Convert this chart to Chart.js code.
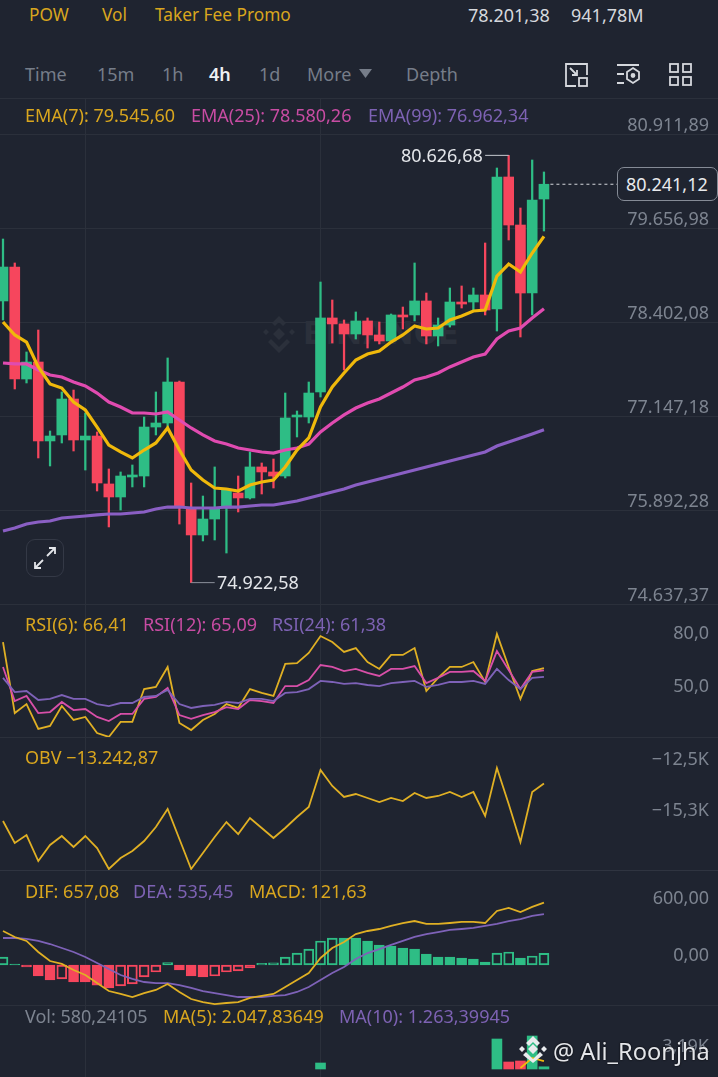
<!DOCTYPE html>
<html>
<head>
<meta charset="utf-8">
<script src="https://cdn.jsdelivr.net/npm/chart.js@4"></script>
<style>
html,body{margin:0;padding:0;background:#1f2430;width:718px;height:1077px;overflow:hidden}
body{position:relative;font-family:"Noto Sans",Inter,sans-serif}
canvas{position:absolute;left:0}
.t{position:absolute;white-space:nowrap;line-height:22px;font-size:18px;transform:translateY(-50%)}
.y{color:#d9a61e}.p{color:#c84ca3}.u{color:#7d62b3}.g{color:#7d8490}.w{color:#d5d8dd}
.n{font-size:18px;color:#767d89}
.sep{position:absolute;left:0;width:718px;height:1px;background:#2b303b}
svg{position:absolute}
</style>
</head>
<body>
<div style="position:absolute;left:258px;top:311px;width:210px;height:44px;color:#2b303b;font-family:Inter;font-size:31.500px;font-weight:800;letter-spacing:1.500px;line-height:44px;padding-left:46px;box-sizing:border-box" >BINANCE</div>
<svg style="left:258px;top:313px" width="42" height="42" viewBox="0 0 42 42" fill="#2b303b"><path d="M21 3l7 7-3 3-4-4-4 4-3-3zM8 16l3 3-3 3-3-3zM34 16l3 3-3 3-3-3zM21 15l6 6-6 6-6-6zM13 26l8 8 8-8 3 3-11 11-11-11z"/></svg>

<canvas id="cMain" width="718" height="508" style="top:98px"></canvas>
<canvas id="cRsi" width="718" height="132" style="top:606px"></canvas>
<canvas id="cObv" width="718" height="132" style="top:738px"></canvas>
<canvas id="cMacd" width="718" height="135" style="top:870px"></canvas>
<canvas id="cVol" width="718" height="72" style="top:1005px"></canvas>

<div class="sep" style="top:98px"></div><div class="sep" style="top:737px"></div><div class="sep" style="top:870px;background:#2f3440"></div><div class="sep" style="top:1005px"></div>

<div class="t y" style="left:29px;top:15px;font-size:17.300px">POW</div>
<div class="t y" style="left:102px;top:15px;font-size:17.300px">Vol</div>
<div class="t y" style="left:155px;top:15px;font-size:17.300px">Taker Fee Promo</div>
<div class="t w" style="left:468px;top:15px">78.201,38</div>
<div class="t w" style="left:571px;top:15px">941,78M</div>

<div class="t n" style="left:25px;top:74px">Time</div>
<div class="t n" style="left:97px;top:74px">15m</div>
<div class="t n" style="left:162px;top:74px">1h</div>
<div class="t n" style="left:209px;top:74px;color:#eef0f3;font-weight:600">4h</div>
<div class="t n" style="left:259px;top:74px">1d</div>
<div class="t n" style="left:307px;top:74px">More</div>
<svg style="left:359px;top:69px" width="14" height="10"><path d="M0 0h13l-6.500 9z" fill="#767d89"/></svg>
<div class="t n" style="left:406px;top:74px">Depth</div>

<svg style="left:564px;top:62px" width="26" height="26" fill="none" stroke="#d5d8dd" stroke-width="1.800"><path d="M12 24H2V2h21v11"/><rect x="15" y="16" width="8" height="8"/><path d="M6 6l7 7M13 8v5H8"/></svg>
<svg style="left:615px;top:62px" width="26" height="26" fill="none" stroke="#d5d8dd" stroke-width="1.800"><path d="M2 3h22M2 12h7M2 21h7"/><path d="M18 6l6 4v7l-6 4-6-4v-7z"/><circle cx="18" cy="13.500" r="1.500" fill="#d5d8dd"/></svg>
<svg style="left:668px;top:62px" width="26" height="26" fill="none" stroke="#d5d8dd" stroke-width="1.800"><rect x="2" y="2" width="8" height="8"/><rect x="15" y="2" width="8" height="8"/><rect x="2" y="15" width="8" height="8"/><rect x="15" y="15" width="8" height="8"/></svg>

<div class="t y" style="left:25px;top:115px">EMA(7): 79.545,60</div>
<div class="t p" style="left:191px;top:115px">EMA(25): 78.580,26</div>
<div class="t u" style="left:368px;top:115px">EMA(99): 76.962,34</div>

<div class="t w" style="left:401px;top:155px;color:#e4e6ea">80.626,68</div>
<div class="t w" style="left:217px;top:582px;color:#e4e6ea">74.922,58</div>

<div style="position:absolute;left:617px;top:167px;width:101px;height:34px;border:1.500px solid #858b96;border-radius:7px;background:#1f2430;box-sizing:border-box"></div>
<div class="t" style="left:626px;top:184px;color:#e8eaed">80.241,12</div>

<div style="position:absolute;left:26px;top:539px;width:38px;height:38px;border:1.500px solid #343946;border-radius:9px;box-sizing:border-box"></div>
<svg style="left:33px;top:546px" width="24" height="24" fill="none" stroke="#e4e6ea" stroke-width="1.800"><path d="M14 10l8-8M16 2h6v6M10 14l-8 8M2 16v6h6"/></svg>

<div class="t y" style="left:25px;top:624px">RSI(6): 66,41</div>
<div class="t p" style="left:143px;top:624px">RSI(12): 65,09</div>
<div class="t u" style="left:272px;top:624px">RSI(24): 61,38</div>
<div class="t y" style="left:25px;top:757px">OBV −13.242,87</div>
<div class="t y" style="left:25px;top:891px">DIF: 657,08</div>
<div class="t u" style="left:133px;top:891px">DEA: 535,45</div>
<div class="t y" style="left:249px;top:891px">MACD: 121,63</div>
<div class="t g" style="left:25px;top:1016px">Vol: 580,24105</div>
<div class="t y" style="left:163px;top:1016px">MA(5): 2.047,83649</div>
<div class="t u" style="left:339px;top:1016px">MA(10): 1.263,39945</div>

<svg style="left:519px;top:1035px" width="28" height="28" viewBox="0 0 28 28"><path d="M14 1l7 7-3 3-4-4-4 4-3-3zM3 11l3 3-3 3-3-3zM25 11l3 3-3 3-3-3zM14 9l5 5-5 5-5-5zM7 17l7 7 7-7 3 3-10 8-10-8z" fill="#e9ebee"/></svg>
<div class="t" style="left:553px;top:1051px;font-size:23.600px;color:#e4e6ea;text-shadow:0 0 2px #000">@ Ali_Roonjha</div>

<script>
const opens=[78683,79136,77641,77868,76814,76894,77374,76827,76880,76240,76066,76333,76346,77000,77054,77601,75919,75559,75772,75919,76119,76053,76467,76400,76346,77134,77134,77468,78456,78376,78242,78416,78229,78149,78496,78496,78683,78215,78362,78669,78669,78763,78576,80338,79697,78789,80044];
const highs=[79510,79190,78002,78295,76947,77468,77494,77187,76934,76440,76400,76493,77134,77468,77922,77614,76253,76079,76467,76172,76346,76667,76520,76573,77454,77214,77601,78936,78696,78429,78536,78456,78402,78509,78602,79190,78789,78456,78856,78883,78856,79457,80458,80626.68,79924,80565,80405];
const lows=[78429,77508,77588,76587,76480,76787,76680,76426,76146,75666,75892,76200,76200,76894,77000,75705,74922.58,75479,75492,75318,75866,76039,76106,76186,76320,76867,77054,77401,78122,77761,78175,78055,78109,78135,78309,78416,78109,78082,78335,78589,78562,78496,78282,79497,78202,78496,79617];
const closes=[79136,77641,77868,76814,76880,77374,76827,76880,76253,76066,76346,76360,77000,77054,77601,75932,75559,75772,75919,76159,76053,76467,76400,76346,77121,77147,77454,78456,78376,78242,78416,78229,78149,78496,78469,78683,78215,78362,78669,78642,78763,78562,80338,79697,78789,80031,80241.12];
const ema7=[78402,78229,78135,77802,77575,77521,77334,77227,77000,76760,76667,76587,76693,76787,76987,76693,76426,76293,76186,76173,76146,76226,76266,76293,76467,76693,76854,77267,77534,77721,77895,77975,78015,78135,78229,78349,78309,78322,78429,78482,78549,78562,79016,79176,79070,79323,79545.6];
const ema25=[77855,77842,77842,77761,77695,77668,77601,77548,77454,77334,77267,77187,77187,77174,77201,77094,76987,76894,76814,76773,76720,76693,76667,76653,76693,76720,76773,76934,77054,77161,77254,77321,77374,77454,77534,77628,77668,77721,77802,77868,77935,77975,78175,78282,78322,78456,78580.26];
const ema99=[75612,75652,75705,75732,75745,75786,75799,75812,75826,75839,75839,75852,75866,75906,75932,75932,75919,75919,75919,75932,75932,75946,75959,75959,75986,76013,76053,76093,76133,76173,76226,76266,76306,76346,76386,76426,76467,76507,76547,76587,76627,76667,76747,76800,76854,76907,76962.34];
const rsi6=[81.1,40.9,46,31.9,33.6,44.9,37,38.7,29.6,27.4,35.9,35.9,54.5,55.7,67,35.3,31.3,37,40.4,46,43.8,54.5,52.3,50.6,68.7,69.2,74.9,84.5,81.1,75.5,77.7,69.8,65.9,73.8,73.8,77.7,53.4,60.8,67,67,69.8,58.5,85.7,67,48.9,64.7,66.41];
const rsi12=[67,47.7,50.6,40.9,41.5,47.2,42.6,43.2,38.7,36.4,40.4,40.4,48.9,50,55.1,39.8,37.6,39.8,41.5,44.3,43.2,48.3,47.7,46.6,56.2,56.2,59.6,68.1,67,64.7,65.9,63.6,61.9,65.9,65.9,67.5,57.9,60.8,64.2,64.2,64.7,59.1,76,65.3,54.5,64.2,65.09];
const rsi24=[60.8,52.8,53.4,48.3,48.9,51.1,48.9,48.9,46,44.9,46.6,46.6,50,50.6,54,46,43.8,44.9,45.5,47.2,46.6,48.9,48.9,47.7,52.3,52.8,54.5,59.1,58.5,57.4,57.9,56.8,56.2,57.9,58.5,59.1,55.7,56.8,58.5,58.5,59.1,57.4,65.9,59.6,54.5,60.8,61.38];
const obv=[-15300,-16508,-16069,-17496,-16618,-16123,-16727,-16123,-16782,-17935,-17331,-16947,-16398,-15629,-14641,-16288,-17935,-17057,-16178,-15355,-16014,-15135,-15684,-16233,-15684,-15080,-14531,-12500,-13378,-13982,-13818,-14037,-14257,-14037,-14202,-13763,-14037,-13927,-13708,-13982,-13708,-15025,-12390,-14367,-16453,-13708,-13242.87];
const dif=[358,295,253,137,42,11,-53,-105,-190,-274,-305,-337,-295,-263,-200,-284,-358,-390,-411,-400,-390,-347,-326,-305,-232,-158,-84,74,179,242,326,358,379,411,442,463,432,432,442,453,453,442,569,600,558,611,657.08];
const dea=[284,284,274,253,221,179,137,84,21,-42,-105,-147,-179,-190,-190,-211,-242,-274,-295,-316,-337,-337,-337,-326,-316,-284,-232,-158,-84,-21,63,126,168,211,253,295,326,347,369,379,390,411,432,463,484,516,535.45];
const macdHist=[84,11,-21,-116,-158,-147,-179,-179,-211,-242,-221,-200,-126,-74,26,-53,-116,-126,-116,-74,-63,-32,18,24,84,126,168,253,284,284,284,253,211,200,179,168,116,84,84,74,63,32,126,137,74,95,121.63];
const volumeBars=[{i:27,v:1572},{i:42,v:7860},{i:43,v:1834},{i:44,v:2096},{i:45,v:8646},{i:46,v:580.24}];
const ma5Tail=[{i:44,v:262},{i:45,v:2882},{i:46,v:2047.83}];
const priceTicks=[80911.89,79656.98,78402.08,77147.18,75892.28,74637.37];
const rsiTicks=[80,50], obvTicks=[-12500,-15300], macdTicks=[600,0], volTicks=[3190];
const gridIdx=[7,27];

const UP='#2ebd85', DOWN='#f6465d', YEL='#f0b90b', PINK='#e04bb0', PUR='#8a5fc4', THIN_Y='#e0b024', THIN_P='#d84fa8', THIN_U='#7e62b8';
const GRID='#2b303b', TICK='#7d8490', XMIN=-0.255, XMAX=60.8;
const de=(v,d)=>v.toLocaleString('de-DE',{minimumFractionDigits:d,maximumFractionDigits:d});
const xy=a=>a.map((y,x)=>({x,y}));
const zero=s=>{s.paddingTop=0;s.paddingBottom=0;s.paddingLeft=0;s.paddingRight=0;};

function line(data,color,w,extra){return Object.assign({type:'line',data:xy(data),borderColor:color,borderWidth:w,pointRadius:0,tension:0,order:1},extra||{});}
function axes(min,max,ticks,fmt,showGrid,offset){return {
  x:{type:'linear',min:XMIN,max:XMAX,offset:false,border:{display:false},
     afterBuildTicks:s=>{s.ticks=gridIdx.map(value=>({value}));},
     ticks:{display:false,autoSkip:false},grid:{offset:false,color:GRID,drawTicks:false,lineWidth:1},afterFit:s=>{s.height=0;zero(s);}},
  y:{type:'linear',position:'right',min,max,border:{display:false},
     afterBuildTicks:s=>{s.ticks=ticks.map(value=>({value}));},
     ticks:{mirror:true,padding:-9,color:TICK,font:{family:'Noto Sans',size:18},labelOffset:offset,autoSkip:false,callback:fmt,includeBounds:false},
     grid:{display:showGrid,color:GRID,drawTicks:false,lineWidth:1},afterFit:s=>{s.width=0;zero(s);}}
};}
function mk(id,datasets,scales){return new Chart(document.getElementById(id),{type:'bar',data:{datasets},options:{
  responsive:false,animation:false,events:[],layout:{padding:0},
  plugins:{legend:{display:false},tooltip:{enabled:false}},scales}});}

const candleColor=closes.map((c,i)=>c>=opens[i]?UP:DOWN);
const n=closes.length, hiIdx=highs.indexOf(Math.max(...highs)), loIdx=lows.indexOf(Math.min(...lows));
mk('cMain',[
  line(ema99,PUR,3.2,{order:1}),line(ema25,PINK,3.2,{order:1}),line(ema7,YEL,3.2,{order:0}),
  {type:'line',order:2,data:[{x:n-0.45,y:closes[n-1]},{x:52.3,y:closes[n-1]}],borderColor:'#d5d8dd',borderWidth:1,borderDash:[3,3],pointRadius:0},
  {type:'line',order:2,data:[{x:hiIdx,y:highs[hiIdx]},{x:hiIdx-2,y:highs[hiIdx]}],borderColor:'#c4c8cf',borderWidth:1,pointRadius:0},
  {type:'line',order:2,data:[{x:loIdx,y:lows[loIdx]},{x:loIdx+2,y:lows[loIdx]}],borderColor:'#8c919b',borderWidth:1,pointRadius:0},
  {order:3,grouped:false,barThickness:10,minBarLength:2,data:closes.map((c,x)=>({x,y:[opens[x],c]})),backgroundColor:candleColor,borderWidth:0},
  {order:4,grouped:false,barThickness:1.6,data:closes.map((c,x)=>({x,y:[lows[x],highs[x]]})),backgroundColor:candleColor,borderWidth:0}
],axes(74610.7,81392.5,priceTicks,v=>de(v,2),true,-8.5));

mk('cRsi',[line(rsi24,THIN_U,1.8),line(rsi12,THIN_P,1.8),line(rsi6,THIN_Y,1.8)],axes(26.8,101.5,rsiTicks,v=>de(v,1),false,-10));
mk('cObv',[line(obv,THIN_Y,1.8)],axes(-17990,-10743,obvTicks,v=>'\u2212'+de(Math.abs(v)/1000,1)+'K',false,-10));

const histColor=macdHist.map(v=>v>=0?UP:DOWN);
const histFill=macdHist.map((v,i)=>(i===0||v>macdHist[i-1])?'rgba(0,0,0,0)':histColor[i]);
mk('cMacd',[line(dif,THIN_Y,1.8,{order:0}),line(dea,THIN_U,1.8,{order:1}),
  {order:2,grouped:false,barThickness:10,data:xy(macdHist),backgroundColor:histFill,borderColor:histColor,borderWidth:1.3,borderSkipped:false}
],axes(-421,1000,macdTicks,v=>de(v,2),false,-9));

mk('cVol',[
  {type:'line',order:0,data:ma5Tail.map(o=>({x:o.i,y:o.v})),borderColor:YEL,borderWidth:1.8,pointRadius:0},
  {order:1,grouped:false,barThickness:10,data:volumeBars.map(o=>({x:o.i,y:o.v})),backgroundColor:volumeBars.map(o=>candleColor[o.i]),borderWidth:0}
],axes(-2096,16768,volTicks,v=>de(v/1000,2)+'K',false,-10));
</script>
</body>
</html>
